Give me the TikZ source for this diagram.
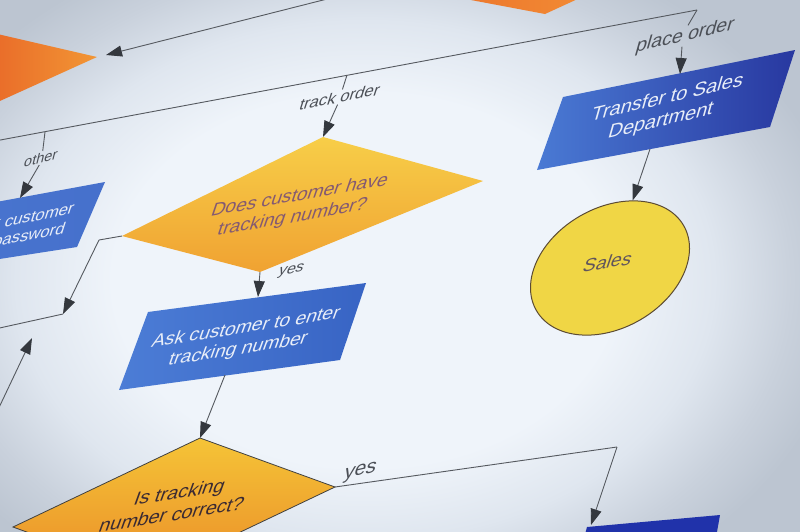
\documentclass[tikz,border=0pt]{standalone}
\usepackage{fontspec}
\setmainfont{Liberation Sans}
\usetikzlibrary{arrows.meta,shapes.geometric}

\definecolor{paperin}{HTML}{EFF4FA}
\definecolor{papermid}{HTML}{DFE6EF}
\definecolor{paperedge}{HTML}{C9D1DC}
\definecolor{paperout}{HTML}{BCC5D1}
\definecolor{linegray}{HTML}{55595F}
\definecolor{tipgray}{HTML}{34383E}
\definecolor{labelgray}{HTML}{4B4F56}
\definecolor{boxwhite}{HTML}{E9EEF8}
\definecolor{askpurple}{HTML}{845A72}
\definecolor{darktext}{HTML}{3A2A33}
\definecolor{salesfill}{HTML}{F0D645}
\definecolor{salesedge}{HTML}{5C4B33}

\pgfdeclareradialshading{vignette}{\pgfpoint{0bp}{0bp}}{%
  color(0bp)=(paperin); color(13bp)=(paperin); color(18bp)=(papermid);
  color(22bp)=(paperedge); color(25bp)=(paperout); color(50bp)=(paperout)}

\begin{document}
\begin{tikzpicture}[x=1pt, y=-1pt,
flow/.style = {draw=linegray, line width=0.9pt},
arrow/.style = {flow, -{Triangle[length=16pt, width=11pt, color=tipgray]}},
persp/.style = {rotate=#1, xslant=0.55, yscale=0.88, align=center},
boxtext/.style = {persp=#1, text=boxwhite},
lbl/.style = {persp=#1, text=labelgray, inner sep=1.5pt},
]

% Paper
\useasboundingbox (0,0) rectangle (800,531);
\shade[shading=vignette] (-120,-80) rectangle (850,640);

% Corner points
\coordinate (tl-t) at (-20,30);  \coordinate (tl-r) at (97,57);   \coordinate (tl-b) at (-20,110);
\coordinate (tc-l) at (455,-3);  \coordinate (tc-b) at (545,14);  \coordinate (tc-r) at (582,-3);
\coordinate (lb-tl) at (-20,205); \coordinate (lb-tr) at (105,182);
\coordinate (lb-br) at (77,247);  \coordinate (lb-bl) at (-20,262);
\coordinate (d1-t) at (323,137); \coordinate (d1-r) at (483,181);
\coordinate (d1-b) at (260,272); \coordinate (d1-l) at (122,236);
\coordinate (ab-tl) at (148,312); \coordinate (ab-tr) at (366,283);
\coordinate (ab-br) at (340,360); \coordinate (ab-bl) at (119,390);
\coordinate (d2-t) at (200,438); \coordinate (d2-r) at (335,487);
\coordinate (d2-b) at (148,576); \coordinate (d2-l) at (13,527);
\coordinate (tb-tl) at (563,97);  \coordinate (tb-tr) at (795,50);
\coordinate (tb-br) at (770,127); \coordinate (tb-bl) at (537,170);
\coordinate (bb-tl) at (587,527); \coordinate (bb-tr) at (720,515);
\coordinate (bb-br) at (712,560); \coordinate (bb-bl) at (578,560);

% Connector points
\coordinate (main-w) at (-5,141);
\coordinate (j-other) at (45,132);
\coordinate (j-track) at (347,75);
\coordinate (j-place) at (697,10);
\coordinate (p-tip) at (680,74);
\coordinate (o-tip) at (20,198);
\coordinate (yes1-tip) at (258,297);
\coordinate (ab-out) at (225,375);
\coordinate (tb-out) at (650,149);
\coordinate (lc1) at (99,240);
\coordinate (lc2) at (63,314);
\coordinate (lc3) at (-5,329);
\coordinate (lu-s) at (-5,416);
\coordinate (lu-t) at (32,338);
\coordinate (j-yes) at (617,447);
\coordinate (bb-tip) at (591,525);
\coordinate (tl-in) at (335,-3);
\coordinate (tl-tip) at (106,55);

% Draw lines
\draw[flow] (main-w) -- (j-place);
\draw[flow] (d1-l) -- (lc1);
\draw[flow] (lc2) -- (lc3);
\draw[flow] (d2-r) -- (j-yes);

% Draw shapes
\path[left color={rgb,255:red,232;green,102;blue,40}, right color={rgb,255:red,242;green,150;blue,52}]
  (tl-t) -- (tl-r) -- (tl-b) -- cycle;
\path[left color={rgb,255:red,236;green,118;blue,44}, right color={rgb,255:red,242;green,138;blue,52}]
  (tc-l) -- (tc-b) -- (tc-r) -- cycle;
\path[left color={rgb,255:red,72;green,116;blue,206}, right color={rgb,255:red,70;green,112;blue,204}]
  (lb-tl) -- (lb-tr) -- (lb-br) -- (lb-bl) -- cycle;
\path[top color={rgb,255:red,247;green,206;blue,72}, bottom color={rgb,255:red,240;green,162;blue,50}]
  (d1-t) -- (d1-r) -- (d1-b) -- (d1-l) -- cycle;
\path[left color={rgb,255:red,76;green,125;blue,214}, right color={rgb,255:red,56;green,100;blue,196}]
  (ab-tl) -- (ab-tr) -- (ab-br) -- (ab-bl) -- cycle;
\path[top color={rgb,255:red,245;green,196;blue,55}, bottom color={rgb,255:red,234;green,140;blue,40},
  draw=black!75, line width=0.8pt]
  (d2-t) -- (d2-r) -- (d2-b) -- (d2-l) -- cycle;
\path[left color={rgb,255:red,74;green,122;blue,212}, right color={rgb,255:red,40;green,56;blue,160}]
  (tb-tl) -- (tb-tr) -- (tb-br) -- (tb-bl) -- cycle;
\path[fill={rgb,255:red,32;green,50;blue,170}] (bb-tl) -- (bb-tr) -- (bb-br) -- (bb-bl) -- cycle;
\node[ellipse, draw=salesedge, line width=1pt, fill=salesfill, minimum width=170pt,
  minimum height=120pt, rotate=30, inner sep=0pt] (sales) at (610,268) {};

% Draw labels
\node[lbl=13, font=\fontsize{20}{24}\selectfont] (plc) at (685,36) {place order};
\node[lbl=11, font=\fontsize{17}{20}\selectfont] (trk) at (340,97) {track order};
\node[lbl=15, font=\fontsize{15}{18}\selectfont] (oth) at (41,158) {other};
\node[lbl=8, font=\fontsize{16}{19}\selectfont] (yes1) at (291,271) {yes};
\node[lbl=13, font=\fontsize{21}{24}\selectfont] (yes2) at (360,472) {yes};

% Draw arrows
\draw[arrow] (tl-in) -- (tl-tip);
\draw[flow] (j-place) -- (plc.north);
\draw[arrow] (plc.south) -- (p-tip);
\draw[flow] (j-track) -- (trk.north);
\draw[arrow] (trk.south) -- (d1-t);
\draw[flow] (j-other) -- (oth.north);
\draw[arrow] (oth.south) -- (o-tip);
\draw[arrow] (lc1) -- (lc2);
\draw[arrow] (lu-s) -- (lu-t);
\draw[arrow] (d1-b) -- (yes1-tip);
\draw[arrow] (ab-out) -- (d2-t);
\draw[arrow] (j-yes) -- (bb-tip);
\draw[arrow] (tb-out) -- (sales);

% Box texts
\node[boxtext=13, font=\fontsize{20.5}{24}\selectfont] (tb-txt) at (664,110) {Transfer to Sales\\Department};
\node[boxtext=9, font=\fontsize{19.5}{23}\selectfont] (ab-txt) at (242,339) {Ask customer to enter\\tracking number};
\node[boxtext=11, font=\fontsize{17}{20}\selectfont] (lb-txt) at (20,229) {Ask customer\\for password};
\node[persp=10, text=askpurple, font=\fontsize{19.5}{23}\selectfont] (d1-txt) at (296,207) {Does customer have\\tracking number?};
\node[persp=9, text=darktext, font=\fontsize{20}{24}\selectfont] (d2-txt) at (176,503) {Is tracking\\number correct?};
\node[persp=10, text=darktext!80, font=\fontsize{19.5}{23}\selectfont] (sales-txt) at (608,262) {Sales};

\end{tikzpicture}
\end{document}
